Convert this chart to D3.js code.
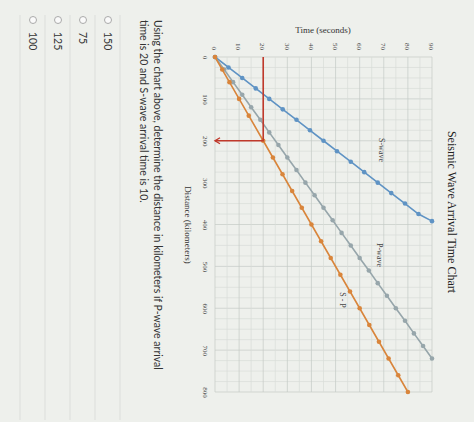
<!DOCTYPE html>
<html>
<head>
<meta charset="utf-8">
<script src="https://cdn.jsdelivr.net/npm/d3@7"></script>
<style>
  body { margin: 0; background: #eef0ec; }
  svg { display: block; }
</style>
</head>
<body>
<div id="chart"></div>
<script>
// Photo of a screen turned 90 degrees, so the whole page is drawn upright and rotated
const width = 474;
const height = 422;

// S-wave: distance (km) / time (s)
const sDist = [0, 25, 50, 75, 100, 125, 150, 175, 200, 225, 250, 275, 300, 325, 350, 375, 392];
const sTime = [0, 5.6, 11.3, 16.9, 22.5, 28.1, 33.8, 39.4, 45, 50.6, 56.3, 61.9, 67.5, 73.1, 78.8, 84.4, 90];
// P-wave
const pDist = [0, 30, 60, 90, 120, 150, 180, 210, 240, 270, 300, 330, 360, 390, 420, 450, 480, 510, 540, 570, 600, 630, 660, 690, 720];
const pTime = [0, 3.8, 7.5, 11.3, 15, 18.8, 22.5, 26.3, 30, 33.8, 37.5, 41.3, 45, 48.8, 52.5, 56.3, 60, 63.8, 67.5, 71.3, 75, 78.8, 82.5, 86.3, 90];
// S - P
const spDist = [0, 30, 60, 100, 140, 200, 240, 280, 320, 360, 400, 440, 480, 520, 560, 600, 640, 680, 720, 760, 800];
const spTime = [0, 3, 6, 10, 14, 20, 24, 28, 32, 36, 40, 44, 48, 52, 56, 60, 64, 68, 72, 76, 80];

const distTicks = [0, 100, 200, 300, 400, 500, 600, 700, 800];
const timeTicks = [0, 10, 20, 30, 40, 50, 60, 70, 80, 90];
const answers = ["150", "75", "125", "100"];

const series = [
    { name: "S-wave", dist: sDist, time: sTime, color: "#5f93c4", label: [150, 95] },
    { name: "P-wave", dist: pDist, time: pTime, color: "#97a6ab", label: [255, 97] },
    { name: "S - P", dist: spDist, time: spTime, color: "#d9853b", label: [300, 134] }
];

const svg = d3.select("#chart").append("svg")
    .attr("width", width)
    .attr("height", height);

// upright page is height x width (422 x 474)
const g = svg.append("g")
    .attr("transform", `translate(${width},0) rotate(90)`);

g.append("rect")
    .attr("width", height).attr("height", width)
    .attr("fill", "#eef0ec");

const x = d3.scaleLinear().domain([0, 800]).range([57, 392]);
const y = d3.scaleLinear().domain([0, 90]).range([259, 42]);

// grid
g.append("g").selectAll("line")
    .data(d3.range(0, 801, 25))
    .join("line")
    .attr("x1", d => x(d)).attr("x2", d => x(d))
    .attr("y1", y(0)).attr("y2", y(90))
    .attr("stroke", d => d % 100 === 0 ? "#c4cac6" : "#d8ddd9")
    .attr("stroke-width", 0.7);

g.append("g").selectAll("line")
    .data(d3.range(0, 91, 5))
    .join("line")
    .attr("x1", x(0)).attr("x2", x(800))
    .attr("y1", d => y(d)).attr("y2", d => y(d))
    .attr("stroke", d => d % 10 === 0 ? "#c4cac6" : "#d8ddd9")
    .attr("stroke-width", 0.7);

// axes (labels only, rotated like in the picture)
const xAxis = g.append("g")
    .attr("transform", `translate(0,${y(0) + 4})`)
    .call(d3.axisBottom(x).tickValues(distTicks).tickSize(0));
xAxis.select(".domain").remove();
xAxis.selectAll("text")
    .attr("font-family", "Liberation Serif").attr("font-size", 7).attr("fill", "#444");

const yAxis = g.append("g")
    .attr("transform", `translate(${x(0) - 4},0)`)
    .call(d3.axisLeft(y).tickValues(timeTicks).tickSize(0));
yAxis.select(".domain").remove();
yAxis.selectAll("text")
    .attr("font-family", "Liberation Serif").attr("font-size", 7).attr("fill", "#444");

// lines and dots
const line = d3.line().x(d => x(d[0])).y(d => y(d[1]));

series.forEach(s => {
    const pts = s.dist.map((d, i) => [d, s.time[i]]);
    g.append("path")
        .attr("d", line(pts))
        .attr("fill", "none")
        .attr("stroke", s.color)
        .attr("stroke-width", 1.6);
    g.append("g").selectAll("circle")
        .data(pts)
        .join("circle")
        .attr("cx", d => x(d[0]))
        .attr("cy", d => y(d[1]))
        .attr("r", 2.3)
        .attr("fill", s.color);
    g.append("text")
        .attr("x", s.label[0]).attr("y", s.label[1])
        .attr("text-anchor", "middle")
        .attr("font-family", "Liberation Serif").attr("font-size", 8).attr("fill", "#444")
        .text(s.name);
});

// red reading lines
g.append("path")
    .attr("d", `M${x(0)},${y(20)}L${x(200)},${y(20)}L${x(200)},${y(0)}`)
    .attr("fill", "none")
    .attr("stroke", "#c0392b")
    .attr("stroke-width", 1.6);
g.append("path")
    .attr("d", `M${x(200) - 3},${y(0) - 5}L${x(200)},${y(0)}L${x(200) + 3},${y(0) - 5}`)
    .attr("fill", "none")
    .attr("stroke", "#c0392b")
    .attr("stroke-width", 1.4);

// titles
g.append("text")
    .attr("x", 212).attr("y", 26)
    .attr("text-anchor", "middle")
    .attr("font-family", "Liberation Serif").attr("font-size", 12).attr("fill", "#222")
    .text("Seismic Wave Arrival Time Chart");

g.append("text")
    .attr("transform", `translate(33,151) rotate(-90)`)
    .attr("text-anchor", "middle")
    .attr("font-family", "Liberation Serif").attr("font-size", 9).attr("fill", "#333")
    .text("Time (seconds)");

g.append("text")
    .attr("x", 225).attr("y", 289)
    .attr("text-anchor", "middle")
    .attr("font-family", "Liberation Serif").attr("font-size", 9).attr("fill", "#333")
    .text("Distance (kilometers)");

// question
const q = g.append("text")
    .attr("font-family", "Lato").attr("font-size", 10.5).attr("fill", "#333");
q.append("tspan").attr("x", 20).attr("y", 320)
    .text("Using the chart above, determine the distance in kilometers if P-wave arrival");
q.append("tspan").attr("x", 20).attr("y", 334)
    .text("time is 20 and S-wave arrival time is 10.");

// answer options
g.append("g").selectAll("line")
    .data(d3.range(answers.length + 1))
    .join("line")
    .attr("x1", 15).attr("x2", 420)
    .attr("y1", i => 354 + i * 25).attr("y2", i => 354 + i * 25)
    .attr("stroke", "#dcdedb");

const opt = g.append("g").selectAll("g")
    .data(answers)
    .join("g")
    .attr("transform", (d, i) => `translate(20,${366 + i * 25})`);
opt.append("circle")
    .attr("r", 3.5)
    .attr("fill", "#fafafa")
    .attr("stroke", "#aaa");
opt.append("text")
    .attr("x", 12).attr("dy", "0.35em")
    .attr("font-family", "Lato").attr("font-size", 10.5).attr("fill", "#333")
    .text(d => d);
</script>
</body>
</html>
